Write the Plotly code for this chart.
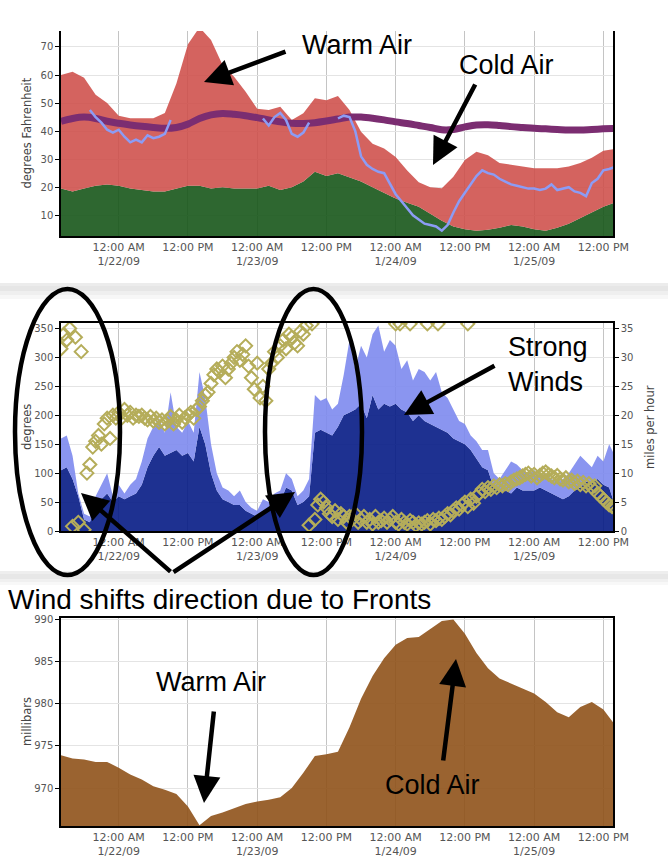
import plotly.graph_objects as go
import pandas as pd

W, H = 668, 866


def px(x):
    return x / W


def py(y):
    return 1 - y / H


START = "2009-01-21 14:00"
END = "2009-01-25 13:40"

# time bases (2-hourly, hourly, half-hourly)
t2 = pd.date_range(START, periods=49, freq="2h")
t1 = pd.date_range(START, periods=97, freq="h")
t05 = pd.date_range(START, periods=193, freq="30min")

tick_vals = ["2009-01-22 00:00", "2009-01-22 12:00", "2009-01-23 00:00", "2009-01-23 12:00",
             "2009-01-24 00:00", "2009-01-24 12:00", "2009-01-25 00:00", "2009-01-25 12:00"]
tick_text = ["12:00 AM<br>1/22/09", "12:00 PM", "12:00 AM<br>1/23/09", "12:00 PM",
             "12:00 AM<br>1/24/09", "12:00 PM", "12:00 AM<br>1/25/09", "12:00 PM"]

# ---------------- panel 1 : temperatures (deg F) ----------------
temp_high = [60, 61.2, 59, 53, 50, 45.5, 44.6, 44.6, 44.6, 46.5, 57, 71, 77, 72.5, 63.6, 59.4,
             54, 48, 47.5, 48.7, 44, 46.4, 51.7, 51, 52.5, 47.5, 39.8, 35.5, 33.8, 30.8, 26, 21.8,
             20, 19.6, 23.7, 29.7, 32.6, 31.4, 28.6, 28, 27.4, 26.8, 26.8, 26.8, 27.4, 28.6, 30.5,
             33, 33.6]
dew_point = [19.5, 18.5, 19.5, 20.5, 21, 20.5, 19.5, 19, 18.5, 18.5, 19.5, 20.5, 20.5, 19.5, 20,
             19.5, 19.5, 19.5, 20.5, 19, 20, 22, 25.5, 24, 25, 23.5, 22, 20, 18, 16, 14.5, 13,
             10.5, 8, 6, 5, 4.5, 4.8, 5.5, 6.5, 6, 5, 4.5, 5.5, 7, 9, 11, 13, 14.5]
inside_temp = [43.5, 44.5, 45, 44.5, 43.5, 42.8, 42.2, 41.7, 41.3, 41, 41.3, 42.5, 44.5, 45.8,
               46.3, 46, 45.5, 44.8, 44, 43.3, 42.8, 42.7, 43, 43.6, 44.3, 45, 45, 44.6, 44, 43.3,
               42.7, 42, 41.3, 40.5, 40.6, 41.5, 42.2, 42.3, 42, 41.6, 41.3, 41, 40.8, 40.6, 40.4,
               40.4, 40.6, 40.8, 41]
N = None
sensor_temp = ([N] * 5 +
               [47.5, 45, 43, 40.5, 39.5, 40.5, 38, 36, 37, 36, 38.5, 37.5, 38, 39, 44] +
               [N] * 15 +
               [44.5, 42, 45, 46.5, 44, 39, 38, 39.5, 43] +
               [N] * 4 +
               [44.5, 45.5, 45, 40, 31, 28, 26.5, 25.5, 25, 21, 17.5, 15, 12.5, 10, 8.5, 7, 6.5,
                6, 4.5, 6.5, 11, 15, 18, 21, 24, 26, 25, 24.5, 23, 22, 21, 20.5, 20, 19.5, 19.5,
                19, 19.5, 21, 19, 19.5, 20, 18.5, 18, 16.8, 21.5, 23, 26, 26.5, 27.2])

# ---------------- panel 2 : wind ----------------
wind_gust = [16, 16.5, 13, 6.5, 3, 2.5, 6, 8, 10, 6, 8, 6.5, 8, 9, 12, 16, 18, 19.5, 17, 24, 18,
             17, 19, 17, 27.5, 23, 15, 10, 7.5, 7, 6, 7, 5, 4, 3.5, 5.5, 5, 6.5, 7, 10, 9, 6, 7,
             9, 23.5, 22.5, 23, 21, 22, 27, 33, 28, 32, 30, 34, 35.5, 31, 33, 32, 28, 29.5, 26,
             28, 27.5, 26, 27.5, 24, 23, 21, 19, 18.5, 16.5, 15.5, 14, 14, 10, 9, 10.5, 12, 11.5,
             10.5, 10, 10.5, 9.5, 10, 9, 8.5, 9, 10, 11.5, 13, 12, 11, 13, 12, 15, 13]
wind_avg = [10.5, 11, 9, 6, 2, 1.5, 4, 5.5, 6.5, 5, 6, 5.5, 6, 6.5, 8, 11, 13, 14.5, 13, 13.5,
            14, 13, 13.5, 12, 18, 15, 10, 7, 5.5, 5, 4.5, 4.5, 3.5, 3, 2.5, 3.5, 3.5, 4.5, 5,
            7.5, 7, 4.5, 5, 6, 17, 17.5, 17, 16.5, 18, 20, 20.5, 21, 22, 19.5, 23.5, 21, 22,
            21.5, 22, 21, 20.5, 19, 20, 19, 18.5, 18, 17.5, 17, 16, 15.5, 15, 14, 12.5, 11,
            10.5, 7.5, 7, 7, 6.5, 7.5, 7, 7, 7, 7.5, 7, 6.5, 6, 5.5, 6, 7, 7.5, 8.5, 8.5, 9, 8,
            7.5, 4.5]
wind_dir = [315, 340, 330, 350, 8, 335, 15, 310, 2, 100, 115, 145, 155, 165, 150, 185, 195, 160,
            200, 195, 205, 195, 210, 200, 205, 195, 200, 198, 200, 195, 192, 198, 190, 195, 188,
            192, 185, 190, 198, 185, 192, 200, 188, 196, 200, 205, 195, 210, 215, 225, 235, 240,
            255, 270, 280, 275, 285, 265, 280, 290, 300, 310, 295, 305, 320, 285, 265, 245, 290,
            230, 250, 225, 280, 290, 310, 300, 320, 330, 315, 340, 335, 325, 320, 345, 340, 355,
            10, 358, 20, 45, 55, 50, 40, 30, 25, 35, 20, 30, 25, 15, 25, 20, 30, 15, 20, 25, 15,
            20, 12, 25, 15, 18, 22, 15, 20, 25, 15, 12, 20, 15, 12, 18, 15, 10, 14, 12, 15, 18,
            12, 20, 18, 22, 20, 25, 30, 28, 35, 40, 38, 45, 50, 42, 55, 48, 60, 65, 72, 68, 75,
            72, 78, 75, 80, 78, 82, 80, 85, 88, 90, 92, 95, 98, 100, 95, 98, 92, 96, 100, 102,
            98, 95, 92, 96, 90, 88, 92, 85, 88, 82, 86, 80, 84, 78, 82, 75, 78, 65, 60, 55, 50,
            45, 42, 40]
dir_top_times = ["2009-01-24 00:00", "2009-01-24 00:45", "2009-01-24 02:30",
                 "2009-01-24 05:30", "2009-01-24 07:20", "2009-01-24 12:30"]
dir_top_values = [358, 358, 358, 358, 358, 358]

# ---------------- panel 3 : pressure (mb) ----------------
pressure = [973.9, 973.5, 973.4, 973.1, 973.1, 972.4, 971.6, 971.0, 970.2, 969.8, 969.3, 967.8,
            965.6, 966.7, 967.1, 967.6, 968.1, 968.4, 968.6, 968.9, 970.0, 971.8, 973.8, 974.0,
            974.3, 977.2, 980.6, 983.3, 985.4, 987.0, 987.8, 987.9, 988.8, 989.8, 990.0, 988.3,
            986.0, 984.2, 983.0, 982.4, 981.8, 981.2, 980.2, 979.0, 978.4, 979.6, 980.2, 979.3,
            977.5]

fig = go.Figure()

# panel 1
fig.add_trace(go.Scatter(x=t2, y=dew_point, mode="lines", fill="tozeroy",
                         fillcolor="rgba(23,87,25,0.9)", line=dict(width=0, color="rgb(46,104,48)"),
                         xaxis="x", yaxis="y"))
fig.add_trace(go.Scatter(x=t2, y=temp_high, mode="lines", fill="tonexty",
                         fillcolor="rgba(206,77,73,0.88)", line=dict(width=0, color="rgb(212,98,95)"),
                         xaxis="x", yaxis="y"))
fig.add_trace(go.Scatter(x=t2, y=inside_temp, mode="lines", line=dict(width=7, color="rgb(123,45,113)",
                         shape="spline"), xaxis="x", yaxis="y"))
fig.add_trace(go.Scatter(x=t1, y=sensor_temp, mode="lines", connectgaps=False,
                         line=dict(width=2.5, color="rgb(140,156,245)"), xaxis="x", yaxis="y"))

# panel 2
fig.add_trace(go.Scatter(x=t1, y=wind_avg, mode="lines", fill="tozeroy",
                         fillcolor="rgba(5,27,133,0.9)", line=dict(width=0, color="rgb(30,50,145)"),
                         xaxis="x2", yaxis="y2"))
fig.add_trace(go.Scatter(x=t1, y=wind_gust, mode="lines", fill="tonexty",
                         fillcolor="rgba(125,138,238,0.9)", line=dict(width=0, color="rgb(138,150,240)"),
                         xaxis="x2", yaxis="y2"))
dmark = dict(symbol="diamond-open", size=10, color="rgb(181,173,90)", line=dict(width=2))
fig.add_trace(go.Scatter(x=t05, y=wind_dir, mode="markers", marker=dmark, xaxis="x2", yaxis="y3"))
fig.add_trace(go.Scatter(x=dir_top_times, y=dir_top_values, mode="markers", marker=dmark,
                         xaxis="x2", yaxis="y3"))

# panel 3
fig.add_trace(go.Scatter(x=t2, y=pressure, mode="lines", fill="tozeroy",
                         fillcolor="rgba(143,82,25,0.9)", line=dict(width=0, color="rgb(154,99,48)"),
                         xaxis="x3", yaxis="y4"))

XD = [px(61), px(613)]
D1 = [py(236), py(31)]
D2 = [py(531), py(322.7)]
D3 = [py(826), py(617.7)]

tickfont_x = dict(family="DejaVu Sans", size=11, color="#555")
tickfont_y = dict(family="DejaVu Sans", size=10, color="#555")


def xax(domain_anchor, mirror):
    return dict(domain=XD, anchor=domain_anchor, type="date", range=[START, END],
                tickmode="array", tickvals=tick_vals, ticktext=tick_text, tickfont=tickfont_x,
                ticks="", showgrid=True, gridcolor="#c4c4c4", gridwidth=1, zeroline=False,
                showline=True, linecolor="black", linewidth=1.5, mirror=mirror,
                automargin=False, fixedrange=True)


def yax(domain, rng, vals, side="left", anchor="x", grid=True, **kw):
    d = dict(domain=domain, range=rng, tickmode="array", tickvals=vals, tickfont=tickfont_y,
             ticks="outside", ticklen=4, tickcolor="black", tickwidth=1, showgrid=grid,
             gridcolor="#e4e4e4", zeroline=False, showline=True, linecolor="black",
             linewidth=1.5, side=side, anchor=anchor, automargin=False)
    d.update(kw)
    return d


fig.update_layout(
    template="none",
    width=W, height=H,
    margin=dict(l=0, r=0, t=0, b=0, pad=0),
    paper_bgcolor="white", plot_bgcolor="white",
    showlegend=False,
    xaxis=xax("y", False),
    xaxis2=xax("y2", True),
    xaxis3=xax("y4", True),
    yaxis=yax(D1, [2.6, 75.7], [10, 20, 30, 40, 50, 60, 70], mirror=True),
    yaxis2=yax(D2, [0, 36], [0, 5, 10, 15, 20, 25, 30, 35], side="right", anchor="x2"),
    yaxis3=yax(D2, [0, 360], [0, 50, 100, 150, 200, 250, 300, 350], side="left",
               anchor="x2", grid=False, overlaying="y2"),
    yaxis4=yax(D3, [965.5, 990.2], [970, 975, 980, 985, 990], anchor="x3", mirror=True),
)

shapes = []
# soft grey separator bands between the stacked screenshots
for y0, y1, c in [(283, 286, "#ececec"), (286, 291, "#e6e6e6"), (291, 295, "#efefef"),
                  (295, 299, "#f7f7f7"),
                  (571, 574, "#eeeeee"), (574, 579, "#e7e7e7"), (579, 582, "#f0f0f0"),
                  (582, 585, "#f8f8f8")]:
    shapes.append(dict(type="rect", xref="paper", yref="paper", x0=0, x1=1, y0=py(y1), y1=py(y0),
                       fillcolor=c, line=dict(width=0), layer="below"))
for x0, x1 in [(15, 120), (265, 362)]:
    shapes.append(dict(type="circle", xref="paper", yref="paper", x0=px(x0), x1=px(x1),
                       y0=py(575), y1=py(289), line=dict(color="black", width=4.5),
                       layer="above"))
fig.update_layout(shapes=shapes)

ann = []
big = dict(family="Liberation Sans", size=27, color="black")
for txt, x, y, xa, sz in [("Warm Air", 356.5, 45, "center", 27), ("Cold Air", 506, 65, "center", 27),
                          ("Strong<br>Winds", 548, 364, "center", 27),
                          ("Wind shifts direction due to Fronts", 6, 599, "left", 28),
                          ("Warm Air", 211, 682, "center", 27), ("Cold Air", 432.5, 785, "center", 27)]:
    ann.append(dict(text=txt, x=px(x), y=py(y), xref="paper", yref="paper", xanchor=xa,
                    yanchor="middle", showarrow=False, font=dict(big, size=sz), align="left"))

for (tx, ty), (hx, hy) in [((287, 51), (204, 82)), ((476, 83), (433, 165)),
                           ((496, 365), (404, 415)), ((172, 573), (81, 493)),
                           ((172, 573), (295, 492)), ((214, 710), (204, 803)),
                           ((443, 762), (456, 659))]:
    ann.append(dict(text="", x=px(hx), y=py(hy), xref="paper", yref="paper",
                    ax=tx - hx, ay=ty - hy, axref="pixel", ayref="pixel", showarrow=True,
                    arrowhead=2, arrowsize=1.2, arrowwidth=4.5, arrowcolor="black"))

small = dict(family="DejaVu Sans", size=11.5, color="#444")
for txt, x, y in [("degrees Fahrenheit", 27, 133.5), ("degrees", 27, 427),
                  ("miles per hour", 650, 427), ("millibars", 27, 722)]:
    ann.append(dict(text=txt, x=px(x), y=py(y), xref="paper", yref="paper", xanchor="center",
                    yanchor="middle", textangle=-90, showarrow=False, font=small))

fig.update_layout(annotations=ann)

fig.write_html("out.html")
